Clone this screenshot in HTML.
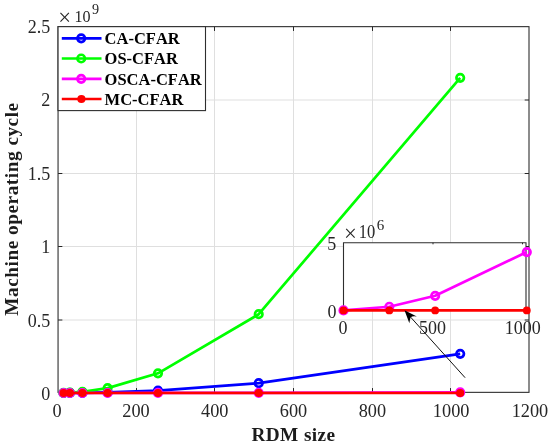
<!DOCTYPE html><html><head><meta charset="utf-8"><title>CFAR</title>
<style>html,body{margin:0;padding:0;background:#fff}svg{display:block}text{font-kerning:none;font-family:"Liberation Serif",serif;fill:#262626}.b{font-weight:bold;fill:#1c1c1c}</style></head><body>
<svg width="550" height="446" viewBox="0 0 550 446">
<rect width="550" height="446" fill="#fff"/>
<line x1="136.50" y1="26.65" x2="136.50" y2="392.35" stroke="#dfdfdf" stroke-width="1"/>
<line x1="214.50" y1="26.65" x2="214.50" y2="392.35" stroke="#dfdfdf" stroke-width="1"/>
<line x1="293.50" y1="26.65" x2="293.50" y2="392.35" stroke="#dfdfdf" stroke-width="1"/>
<line x1="372.50" y1="26.65" x2="372.50" y2="392.35" stroke="#dfdfdf" stroke-width="1"/>
<line x1="450.50" y1="26.65" x2="450.50" y2="392.35" stroke="#dfdfdf" stroke-width="1"/>
<line x1="58.05" y1="320.00" x2="529.0" y2="320.00" stroke="#dfdfdf" stroke-width="1"/>
<line x1="58.05" y1="246.50" x2="529.0" y2="246.50" stroke="#dfdfdf" stroke-width="1"/>
<line x1="58.05" y1="173.50" x2="529.0" y2="173.50" stroke="#dfdfdf" stroke-width="1"/>
<line x1="58.05" y1="100.00" x2="529.0" y2="100.00" stroke="#dfdfdf" stroke-width="1"/>
<line x1="136.50" y1="392.35" x2="136.50" y2="388.05" stroke="#262626" stroke-width="1"/>
<line x1="136.50" y1="26.65" x2="136.50" y2="30.95" stroke="#262626" stroke-width="1"/>
<line x1="214.50" y1="392.35" x2="214.50" y2="388.05" stroke="#262626" stroke-width="1"/>
<line x1="214.50" y1="26.65" x2="214.50" y2="30.95" stroke="#262626" stroke-width="1"/>
<line x1="293.50" y1="392.35" x2="293.50" y2="388.05" stroke="#262626" stroke-width="1"/>
<line x1="293.50" y1="26.65" x2="293.50" y2="30.95" stroke="#262626" stroke-width="1"/>
<line x1="372.50" y1="392.35" x2="372.50" y2="388.05" stroke="#262626" stroke-width="1"/>
<line x1="372.50" y1="26.65" x2="372.50" y2="30.95" stroke="#262626" stroke-width="1"/>
<line x1="450.50" y1="392.35" x2="450.50" y2="388.05" stroke="#262626" stroke-width="1"/>
<line x1="450.50" y1="26.65" x2="450.50" y2="30.95" stroke="#262626" stroke-width="1"/>
<line x1="58.05" y1="320.00" x2="62.349999999999994" y2="320.00" stroke="#262626" stroke-width="1"/>
<line x1="529.0" y1="320.00" x2="524.7" y2="320.00" stroke="#262626" stroke-width="1"/>
<line x1="58.05" y1="246.50" x2="62.349999999999994" y2="246.50" stroke="#262626" stroke-width="1"/>
<line x1="529.0" y1="246.50" x2="524.7" y2="246.50" stroke="#262626" stroke-width="1"/>
<line x1="58.05" y1="173.50" x2="62.349999999999994" y2="173.50" stroke="#262626" stroke-width="1"/>
<line x1="529.0" y1="173.50" x2="524.7" y2="173.50" stroke="#262626" stroke-width="1"/>
<line x1="58.05" y1="100.00" x2="62.349999999999994" y2="100.00" stroke="#262626" stroke-width="1"/>
<line x1="529.0" y1="100.00" x2="524.7" y2="100.00" stroke="#262626" stroke-width="1"/>
<rect x="58.05" y="26.65" width="470.95" height="365.70" fill="none" stroke="#2e2e2e" stroke-width="1.1"/>
<text x="57.15" y="416.8" font-size="18.3" text-anchor="middle">0</text>
<text x="135.95" y="416.8" font-size="18.3" text-anchor="middle">200</text>
<text x="214.75" y="416.8" font-size="18.3" text-anchor="middle">400</text>
<text x="293.55" y="416.8" font-size="18.3" text-anchor="middle">600</text>
<text x="372.35" y="416.8" font-size="18.3" text-anchor="middle">800</text>
<text x="451.15" y="416.8" font-size="18.3" text-anchor="middle">1000</text>
<text x="529.95" y="416.8" font-size="18.3" text-anchor="middle">1200</text>
<text x="50.3" y="400.10" font-size="18" text-anchor="end">0</text>
<text x="50.3" y="326.60" font-size="18" text-anchor="end">0.5</text>
<text x="50.3" y="253.20" font-size="18" text-anchor="end">1</text>
<text x="50.3" y="179.95" font-size="18" text-anchor="end">1.5</text>
<text x="50.3" y="106.45" font-size="18" text-anchor="end">2</text>
<text x="50.3" y="32.95" font-size="18" text-anchor="end">2.5</text>
<text x="58.20" y="24.80" font-size="22.7">×</text>
<text transform="translate(74.50,21.80) scale(0.92,1)" font-size="17.5">10</text>
<text x="91.90" y="13.60" font-size="14.2">9</text>
<text class="b" x="293.5" y="441.3" font-size="19.3" letter-spacing="0.4" text-anchor="middle">RDM size</text>
<text class="b" transform="translate(18.3,209.0) rotate(-90)" font-size="19.3" letter-spacing="0.52" text-anchor="middle">Machine operating cycle</text>
<polyline points="63.55,392.99 69.84,392.96 82.43,392.85 107.62,392.39 157.99,390.55 258.72,383.20 460.19,353.80" fill="none" stroke="#0000ff" stroke-width="2.7" stroke-linejoin="round"/>
<circle cx="63.55" cy="392.99" r="3.75" fill="none" stroke="#0000ff" stroke-width="2.7"/>
<circle cx="69.84" cy="392.96" r="3.75" fill="none" stroke="#0000ff" stroke-width="2.7"/>
<circle cx="82.43" cy="392.85" r="3.75" fill="none" stroke="#0000ff" stroke-width="2.7"/>
<circle cx="107.62" cy="392.39" r="3.75" fill="none" stroke="#0000ff" stroke-width="2.7"/>
<circle cx="157.99" cy="390.55" r="3.75" fill="none" stroke="#0000ff" stroke-width="2.7"/>
<circle cx="258.72" cy="383.20" r="3.75" fill="none" stroke="#0000ff" stroke-width="2.7"/>
<circle cx="460.19" cy="353.80" r="3.75" fill="none" stroke="#0000ff" stroke-width="2.7"/>
<polyline points="63.55,392.92 69.84,392.69 82.43,391.77 107.62,388.08 157.99,373.30 258.72,314.22 460.19,77.87" fill="none" stroke="#00ff00" stroke-width="2.7" stroke-linejoin="round"/>
<circle cx="63.55" cy="392.92" r="3.75" fill="none" stroke="#00ff00" stroke-width="2.7"/>
<circle cx="69.84" cy="392.69" r="3.75" fill="none" stroke="#00ff00" stroke-width="2.7"/>
<circle cx="82.43" cy="391.77" r="3.75" fill="none" stroke="#00ff00" stroke-width="2.7"/>
<circle cx="107.62" cy="388.08" r="3.75" fill="none" stroke="#00ff00" stroke-width="2.7"/>
<circle cx="157.99" cy="373.30" r="3.75" fill="none" stroke="#00ff00" stroke-width="2.7"/>
<circle cx="258.72" cy="314.22" r="3.75" fill="none" stroke="#00ff00" stroke-width="2.7"/>
<circle cx="460.19" cy="77.87" r="3.75" fill="none" stroke="#00ff00" stroke-width="2.7"/>
<polyline points="63.55,393.00 69.84,393.00 82.43,393.00 107.62,392.99 157.99,392.96 258.72,392.84 460.19,392.37" fill="none" stroke="#ff00ff" stroke-width="2.7" stroke-linejoin="round"/>
<circle cx="63.55" cy="393.00" r="3.75" fill="none" stroke="#ff00ff" stroke-width="2.7"/>
<circle cx="69.84" cy="393.00" r="3.75" fill="none" stroke="#ff00ff" stroke-width="2.7"/>
<circle cx="82.43" cy="393.00" r="3.75" fill="none" stroke="#ff00ff" stroke-width="2.7"/>
<circle cx="107.62" cy="392.99" r="3.75" fill="none" stroke="#ff00ff" stroke-width="2.7"/>
<circle cx="157.99" cy="392.96" r="3.75" fill="none" stroke="#ff00ff" stroke-width="2.7"/>
<circle cx="258.72" cy="392.84" r="3.75" fill="none" stroke="#ff00ff" stroke-width="2.7"/>
<circle cx="460.19" cy="392.37" r="3.75" fill="none" stroke="#ff00ff" stroke-width="2.7"/>
<polyline points="63.55,393.00 69.84,393.00 82.43,393.00 107.62,393.00 157.99,393.00 258.72,393.00 460.19,393.00" fill="none" stroke="#ff0000" stroke-width="2.7" stroke-linejoin="round"/>
<circle cx="63.55" cy="393.00" r="4.05" fill="#ff0000"/>
<circle cx="69.84" cy="393.00" r="4.05" fill="#ff0000"/>
<circle cx="82.43" cy="393.00" r="4.05" fill="#ff0000"/>
<circle cx="107.62" cy="393.00" r="4.05" fill="#ff0000"/>
<circle cx="157.99" cy="393.00" r="4.05" fill="#ff0000"/>
<circle cx="258.72" cy="393.00" r="4.05" fill="#ff0000"/>
<circle cx="460.19" cy="393.00" r="4.05" fill="#ff0000"/>
<rect x="58.05" y="26.65" width="147.45" height="83.95" fill="#fff" stroke="#2e2e2e" stroke-width="1.1"/>
<line x1="61.8" y1="38.3" x2="101.5" y2="38.3" stroke="#0000ff" stroke-width="2.7"/>
<circle cx="81.2" cy="38.3" r="3.75" fill="none" stroke="#0000ff" stroke-width="2.7"/>
<text class="b" x="104.6" y="44.00" font-size="16.5" style="fill:#000">CA-CFAR</text>
<line x1="61.8" y1="58.5" x2="101.5" y2="58.5" stroke="#00ff00" stroke-width="2.7"/>
<circle cx="81.2" cy="58.5" r="3.75" fill="none" stroke="#00ff00" stroke-width="2.7"/>
<text class="b" x="104.6" y="64.20" font-size="16.5" style="fill:#000">OS-CFAR</text>
<line x1="61.8" y1="78.8" x2="101.5" y2="78.8" stroke="#ff00ff" stroke-width="2.7"/>
<circle cx="81.2" cy="78.8" r="3.75" fill="none" stroke="#ff00ff" stroke-width="2.7"/>
<text class="b" x="104.6" y="84.50" font-size="16.5" style="fill:#000">OSCA-CFAR</text>
<line x1="61.8" y1="99.0" x2="101.5" y2="99.0" stroke="#ff0000" stroke-width="2.7"/>
<circle cx="81.4" cy="99.0" r="4.1" fill="#ff0000"/>
<text class="b" x="104.6" y="104.70" font-size="16.5" style="fill:#000">MC-CFAR</text>
<rect x="343.5" y="242.7" width="182.50" height="67.70" fill="#fff"/>
<polyline points="343.5,310.4 343.5,242.7 526.0,242.7 526.0,310.4" fill="none" stroke="#2e2e2e" stroke-width="1.1"/>
<line x1="433.00" y1="242.7" x2="433.00" y2="244.29999999999998" stroke="#262626" stroke-width="1"/>
<line x1="522.50" y1="242.7" x2="522.50" y2="244.29999999999998" stroke="#262626" stroke-width="1"/>
<polyline points="343.50,310.40 389.32,306.75 435.15,295.81 526.80,252.05" fill="none" stroke="#ff00ff" stroke-width="2.7" stroke-linejoin="round"/>
<circle cx="343.50" cy="310.40" r="3.75" fill="none" stroke="#ff00ff" stroke-width="2.7"/>
<circle cx="389.32" cy="306.75" r="3.75" fill="none" stroke="#ff00ff" stroke-width="2.7"/>
<circle cx="435.15" cy="295.81" r="3.75" fill="none" stroke="#ff00ff" stroke-width="2.7"/>
<circle cx="526.80" cy="252.05" r="3.75" fill="none" stroke="#ff00ff" stroke-width="2.7"/>
<polyline points="343.50,310.40 389.32,310.40 435.15,310.40 526.80,310.40" fill="none" stroke="#ff0000" stroke-width="2.7" stroke-linejoin="round"/>
<circle cx="343.50" cy="310.40" r="3.9" fill="#ff0000"/>
<circle cx="389.32" cy="310.40" r="3.9" fill="#ff0000"/>
<circle cx="435.15" cy="310.40" r="3.9" fill="#ff0000"/>
<circle cx="526.80" cy="310.40" r="3.9" fill="#ff0000"/>
<text x="336.2" y="249.5" font-size="18" text-anchor="end">5</text>
<text x="336.5" y="317.6" font-size="18" text-anchor="end">0</text>
<text x="343.90" y="241.20" font-size="22.7">×</text>
<text transform="translate(358.70,238.20) scale(0.92,1)" font-size="18">10</text>
<text x="376.70" y="229.70" font-size="15">6</text>
<text x="342.90" y="334.2" font-size="18" text-anchor="middle">0</text>
<text x="432.60" y="334.2" font-size="18" text-anchor="middle">500</text>
<text x="522.80" y="334.2" font-size="18" text-anchor="middle">1000</text>
<line x1="465.1" y1="377.7" x2="410.6" y2="317.1" stroke="#111" stroke-width="1"/>
<path d="M404.5 310.3 L416.8 316.5 Q412.6 315.9 410.65 317.15 Q409.9 319.3 409.35 323.2 Z" fill="#000"/>
</svg></body></html>
